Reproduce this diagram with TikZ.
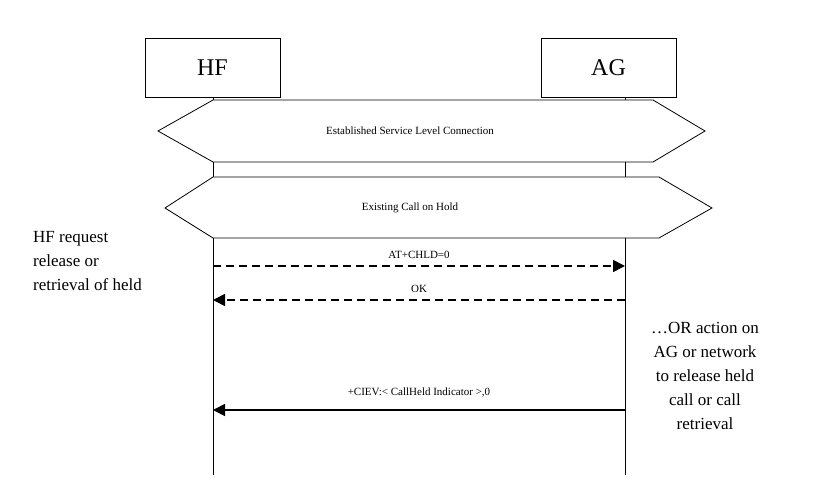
\documentclass[tikz,border=0pt]{standalone}
\usepackage{fontspec}
\setmainfont{Liberation Serif}
\usetikzlibrary{arrows.meta}
\begin{document}
\begin{tikzpicture}[x=1pt,y=-1pt,
  ent/.style={draw,minimum width=135pt,minimum height=59pt,font=\fontsize{24}{28}\selectfont,inner sep=0pt},
  lbl/.style={font=\fontsize{11}{13}\selectfont},
  side/.style={font=\fontsize{17}{24}\selectfont,inner sep=0pt},
  msg/.style={line width=1.7pt,-{Triangle[length=12pt,width=12pt]}},
  dmsg/.style={msg,dash pattern=on 8pt off 5pt}]
\useasboundingbox (0,0) rectangle (831,489);
\node[ent] (hf) at (212.5,67.5) {HF};
\node[ent] (ag) at (608.5,67.5) {AG};
\coordinate (hfe) at (213,475);
\coordinate (age) at (625,475);
\draw[line width=0.8pt] (213,97) -- (hfe);
\draw[line width=0.8pt] (625,97) -- (age);
\draw[fill=white,line width=0.8pt] (158,131) -- (213,100) -- (653,100) -- (705,131) -- (653,162) -- (213,162) -- cycle;
\node[lbl] (h1) at (410,131) {Established Service Level Connection};
\draw[fill=white,line width=0.8pt] (165,208) -- (213,177) -- (659,177) -- (712,208) -- (659,238) -- (213,238) -- cycle;
\node[lbl] (h2) at (410,208) {Existing Call on Hold};
\coordinate (a1) at (213,266); \coordinate (b1) at (625,266);
\coordinate (a2) at (625,300); \coordinate (b2) at (213,300);
\coordinate (a3) at (625,410); \coordinate (b3) at (213,410);
\draw[dmsg] (a1) -- (b1) node[lbl,midway,above=3pt] {AT+CHLD=0};
\draw[dmsg] (a2) -- (b2) node[lbl,midway,above=3pt] {OK};
\draw[msg] (a3) -- (b3) node[lbl,midway,above=9pt] {+CIEV:< CallHeld Indicator >,0};
\node[side,anchor=north west,align=left] (lt) at (33,231) {HF request\\release or\\retrieval of held};
\node[side,anchor=north,align=center] (rt) at (705,322) {\dots OR action on\\AG or network\\to release held\\call or call\\retrieval};
\end{tikzpicture}
\end{document}
